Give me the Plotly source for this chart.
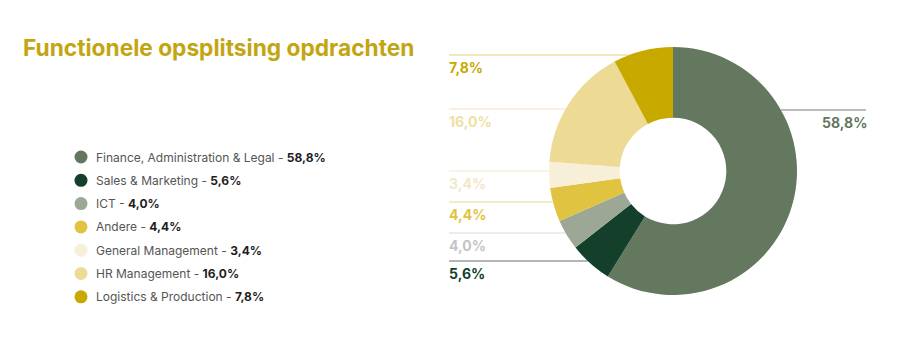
import math
import plotly.graph_objects as go

# ---------------- data ----------------
categories = [
    "Finance, Administration & Legal",
    "Sales & Marketing",
    "ICT",
    "Andere",
    "General Management",
    "HR Management",
    "Logistics & Production",
]
values = [58.8, 5.6, 4.0, 4.4, 3.4, 16.0, 7.8]
value_labels = ["58,8%", "5,6%", "4,0%", "4,4%", "3,4%", "16,0%", "7,8%"]

# ---------------- styles ----------------
slice_colors = ["#64775F", "#143F2B", "#9DA796", "#E0C441", "#F8EFD8", "#EDDB95", "#C8A900"]
callout_text_colors = ["#64775F", "#143F2B", "#C4C4C4", "#E0C441", "#F2E8C8", "#EEDFA4", "#C8A900"]
callout_line_colors = ["#7A7A7A", "#6E6E6E", "#DADADA", "#EAD98A", "#F2EBD2", "#F0E4B8", "#E3D27F"]
callout_side = ["right", "left", "left", "left", "left", "left", "left"]
callout_line_y = [110, 261, 233, 202, 171, 109, 55]   # pixel y of each leader line

W, H = 908, 354
cx, cy, R = 673, 171, 124
hole = 0.43
left_text_x = 447
left_line_x = 449
right_text_x = 869
right_line_x = 866

legend_x_dot = 81
legend_x_text = 94
legend_y0 = 157
legend_dy = 23.3

title_text = "Functionele opsplitsing opdrachten"
title_color = "#C3A512"
FONT = "Inter, Roboto, sans-serif"

fig = go.Figure()

# donut
fig.add_trace(go.Pie(
    labels=categories,
    values=values,
    hole=hole,
    sort=False,
    direction="clockwise",
    rotation=0,
    marker=dict(colors=slice_colors, line=dict(width=0)),
    textinfo="none",
    hoverinfo="label+percent",
    showlegend=False,
    domain=dict(x=[(cx - R) / W, (cx + R) / W], y=[1 - (cy + R) / H, 1 - (cy - R) / H]),
))

# legend dots (pixel-space hidden axes)
legend_ys = [legend_y0 + i * legend_dy for i in range(len(categories))]
fig.add_trace(go.Scatter(
    x=[legend_x_dot] * len(categories),
    y=legend_ys,
    mode="markers",
    marker=dict(size=13, color=slice_colors, line=dict(width=0)),
    hoverinfo="skip",
    showlegend=False,
))

annotations = []
shapes = []

# legend text
for cat, lab, y in zip(categories, value_labels, legend_ys):
    annotations.append(dict(
        x=legend_x_text, y=y, xref="x", yref="y",
        text=f"<span style='color:#555555'>{cat} - </span><b style='color:#1E1E1E'>{lab}</b>",
        showarrow=False, xanchor="left", yanchor="middle",
        font=dict(family=FONT, size=12, color="#555555"),
    ))

# callouts
for lab, side, ly, tc, lc in zip(value_labels, callout_side, callout_line_y,
                                 callout_text_colors, callout_line_colors):
    dy = ly - cy
    dx = math.sqrt(max(R * R - dy * dy, 0))
    if side == "left":
        x0, x1 = left_line_x, cx - dx
        tx, anchor = left_text_x, "left"
    else:
        x0, x1 = cx + dx, right_line_x
        tx, anchor = right_text_x, "right"
    shapes.append(dict(type="line", xref="x", yref="y", x0=x0, x1=x1, y0=ly, y1=ly,
                       line=dict(color=lc, width=1.2), layer="below"))
    annotations.append(dict(
        x=tx, y=ly + 12, xref="x", yref="y", text=f"<b>{lab}</b>",
        showarrow=False, xanchor=anchor, yanchor="middle",
        font=dict(family=FONT, size=14, color=tc),
    ))

# title
annotations.append(dict(
    x=21, y=47, xref="x", yref="y", text=f"<b>{title_text}</b>",
    showarrow=False, xanchor="left", yanchor="middle",
    font=dict(family=FONT, size=22.7, color=title_color),
))

fig.update_layout(
    width=W, height=H,
    margin=dict(l=0, r=0, t=0, b=0),
    paper_bgcolor="white", plot_bgcolor="rgba(0,0,0,0)",
    xaxis=dict(range=[0, W], visible=False, domain=[0, 1], fixedrange=True),
    yaxis=dict(range=[H, 0], visible=False, domain=[0, 1], fixedrange=True),
    annotations=annotations,
    shapes=shapes,
    showlegend=False,
)

fig.write_html("out.html")
